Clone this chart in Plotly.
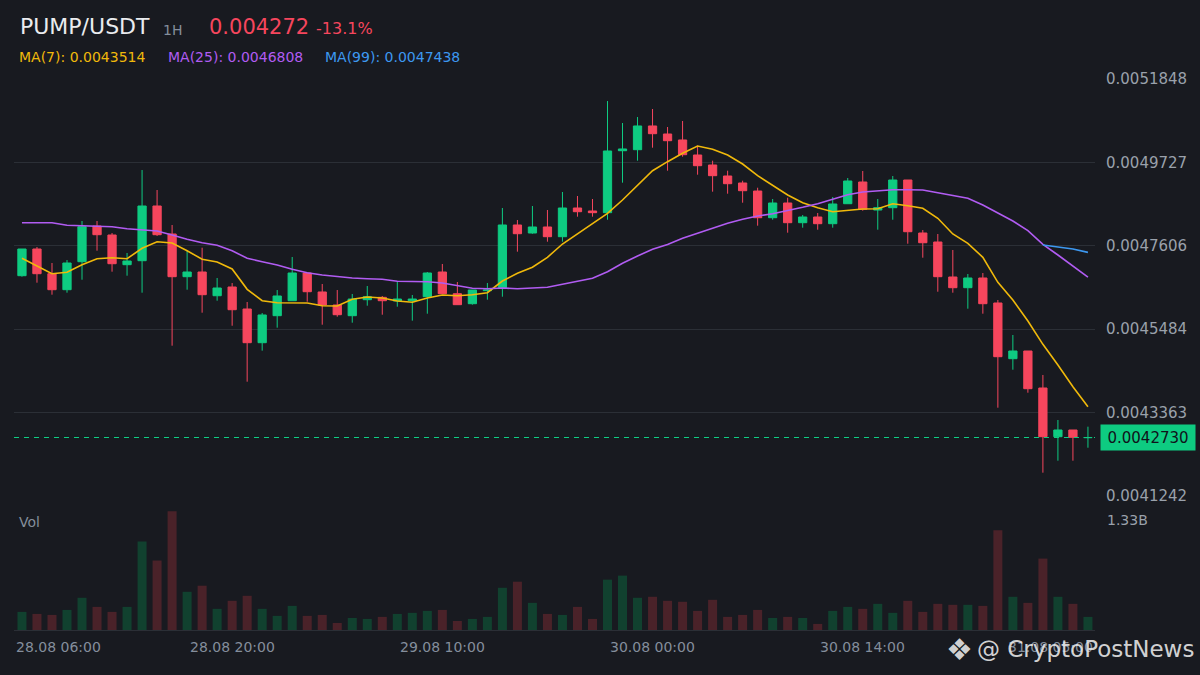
import pandas as pd
import plotly.graph_objects as go

# 1H candles, 28.08 06:00 -> 31.08 05:00
start = "2025-08-28 06:00"

opens = [0.0046845, 0.0047524, 0.0046896, 0.0046489, 0.0047201, 0.0048109, 0.0047880, 0.0047125, 0.0047227, 0.0048618,
         0.0047906, 0.0046820, 0.0046939, 0.0046336, 0.0046558, 0.0045998, 0.0045141, 0.0045828, 0.0046209, 0.0046914,
         0.0046431, 0.0046100, 0.0045828, 0.0046235, 0.0046295, 0.0046202, 0.0046209, 0.0046311, 0.0046939, 0.0046387,
         0.0046133, 0.0046464, 0.0046540, 0.0048135, 0.0047931, 0.0048084, 0.0047837, 0.0048567, 0.0048491, 0.0048448,
         0.0050024, 0.0050050, 0.0050653, 0.0050449, 0.0050297, 0.0049915, 0.0049661, 0.0049381, 0.0049203, 0.0048999,
         0.0048320, 0.0048694, 0.0048193, 0.0048338, 0.0048168, 0.0048676, 0.0049228, 0.0048516, 0.0048575, 0.0049279,
         0.0047931, 0.0047702, 0.0046812, 0.0046540, 0.0046787, 0.0046151, 0.0044734, 0.0044930, 0.0043989, 0.0042750,
         0.0042921, 0.0042725]
highs = [0.0047524, 0.0047575, 0.0047168, 0.0047244, 0.0048236, 0.0048236, 0.0047931, 0.0047422, 0.0049533, 0.0049025,
         0.0048135, 0.0047481, 0.0047557, 0.0046787, 0.0046659, 0.0046176, 0.0045896, 0.0046481, 0.0047321, 0.0046914,
         0.0046634, 0.0046481, 0.0046380, 0.0046583, 0.0046329, 0.0046685, 0.0046354, 0.0046939, 0.0047143, 0.0046685,
         0.0046481, 0.0046659, 0.0048567, 0.0048262, 0.0048618, 0.0048516, 0.0048974, 0.0048872, 0.0048796, 0.0051288,
         0.0050729, 0.0050881, 0.0051085, 0.0050627, 0.0050780, 0.0050152, 0.0049770, 0.0049516, 0.0049261, 0.0049083,
         0.0048796, 0.0048829, 0.0048389, 0.0048440, 0.0048847, 0.0049330, 0.0049508, 0.0048796, 0.0049381, 0.0049279,
         0.0048007, 0.0047906, 0.0047499, 0.0046888, 0.0046914, 0.0046227, 0.0045337, 0.0044930, 0.0044320, 0.0043175,
         0.0042921, 0.0043005]
lows = [0.0046820, 0.0046667, 0.0046362, 0.0046413, 0.0046743, 0.0047481, 0.0046947, 0.0046845, 0.0046413, 0.0047855,
        0.0045065, 0.0046489, 0.0045904, 0.0046209, 0.0045573, 0.0044149, 0.0044938, 0.0045523, 0.0046209, 0.0046184,
        0.0045599, 0.0045802, 0.0045650, 0.0046082, 0.0045853, 0.0046057, 0.0045701, 0.0045879, 0.0046387, 0.0046108,
        0.0046108, 0.0046235, 0.0046311, 0.0047456, 0.0047913, 0.0047710, 0.0047710, 0.0048346, 0.0048346, 0.0048269,
        0.0049211, 0.0049770, 0.0050101, 0.0049516, 0.0049872, 0.0049414, 0.0048982, 0.0048931, 0.0048702, 0.0048117,
        0.0048269, 0.0047939, 0.0048066, 0.0048015, 0.0048066, 0.0048676, 0.0048498, 0.0048015, 0.0048269, 0.0047659,
        0.0047303, 0.0046438, 0.0046413, 0.0046006, 0.0045879, 0.0043488, 0.0044454, 0.0043869, 0.0041835, 0.0042140,
        0.0042140, 0.0042470]
closes = [0.0047524, 0.0046896, 0.0046489, 0.0047168, 0.0048091, 0.0047888, 0.0047150, 0.0047219, 0.0048618, 0.0047888,
          0.0046820, 0.0046939, 0.0046362, 0.0046532, 0.0045980, 0.0045141, 0.0045846, 0.0046329, 0.0046914, 0.0046438,
          0.0046100, 0.0045853, 0.0046252, 0.0046311, 0.0046209, 0.0046252, 0.0046252, 0.0046914, 0.0046387, 0.0046108,
          0.0046481, 0.0046481, 0.0048135, 0.0047913, 0.0048084, 0.0047837, 0.0048567, 0.0048473, 0.0048448, 0.0050017,
          0.0050068, 0.0050653, 0.0050457, 0.0050279, 0.0049923, 0.0049643, 0.0049389, 0.0049185, 0.0049007, 0.0048320,
          0.0048694, 0.0048193, 0.0048338, 0.0048168, 0.0048669, 0.0049254, 0.0048534, 0.0048575, 0.0049279, 0.0047964,
          0.0047684, 0.0046820, 0.0046540, 0.0046787, 0.0046133, 0.0044785, 0.0044930, 0.0043971, 0.0042750, 0.0042921,
          0.0042735, 0.0042730]

# volume in millions
volumes = [203, 180, 169, 225, 361, 259, 203, 259, 992, 778,
           1330, 428, 496, 237, 327, 383, 237, 158, 270, 158,
           169, 79, 135, 124, 147, 180, 192, 214, 225, 101,
           124, 147, 473, 541, 304, 180, 169, 259, 124, 564,
           609, 361, 372, 327, 316, 214, 338, 147, 169, 225,
           135, 147, 135, 68, 214, 259, 237, 293, 192, 327,
           203, 293, 282, 282, 270, 1116, 372, 304, 800, 372,
           293, 147]

ma7 = [0.0047288, 0.0047092, 0.0046896, 0.0046932, 0.0047125, 0.0047277, 0.0047303, 0.0047277, 0.0047542, 0.0047710,
       0.0047677, 0.0047481, 0.0047262, 0.0047194, 0.0047016, 0.0046499, 0.0046209, 0.0046158, 0.0046158, 0.0046151,
       0.0046082, 0.0046074, 0.0046245, 0.0046303, 0.0046278, 0.0046202, 0.0046169, 0.0046278, 0.0046354, 0.0046336,
       0.0046362, 0.0046413, 0.0046710, 0.0046906, 0.0047059, 0.0047313, 0.0047651, 0.0047906, 0.0048178, 0.0048432,
       0.0048770, 0.0049152, 0.0049516, 0.0049745, 0.0049958, 0.0050144, 0.0050060, 0.0049915, 0.0049686, 0.0049389,
       0.0049152, 0.0048898, 0.0048702, 0.0048575, 0.0048473, 0.0048516, 0.0048542, 0.0048549, 0.0048676, 0.0048625,
       0.0048559, 0.0048305, 0.0047906, 0.0047669, 0.0047313, 0.0046677, 0.0046227, 0.0045693, 0.0045100, 0.0044574,
       0.0044022, 0.0043514]
ma25 = [0.0048193, 0.0048193, 0.0048193, 0.0048127, 0.0048109, 0.0048109, 0.0048091, 0.0048041, 0.0048007, 0.0047982,
        0.0047880, 0.0047771, 0.0047684, 0.0047618, 0.0047481, 0.0047288, 0.0047201, 0.0047117, 0.0047008, 0.0046921,
        0.0046863, 0.0046820, 0.0046787, 0.0046769, 0.0046754, 0.0046703, 0.0046693, 0.0046693, 0.0046659, 0.0046583,
        0.0046525, 0.0046514, 0.0046532, 0.0046514, 0.0046525, 0.0046550, 0.0046626, 0.0046710, 0.0046779, 0.0046947,
        0.0047160, 0.0047346, 0.0047517, 0.0047639, 0.0047796, 0.0047923, 0.0048058, 0.0048178, 0.0048280, 0.0048364,
        0.0048422, 0.0048498, 0.0048585, 0.0048676, 0.0048788, 0.0048905, 0.0048974, 0.0048999, 0.0049032, 0.0049032,
        0.0049025, 0.0048956, 0.0048890, 0.0048814, 0.0048643, 0.0048448, 0.0048236, 0.0047990, 0.0047644, 0.0047372,
        0.0047100, 0.0046808]
ma99 = [None] * 68 + [0.0047626, 0.0047583, 0.0047524, 0.0047438]

price_ticks = [0.0041242, 0.0043363, 0.0045484, 0.0047606, 0.0049727, 0.0051848]

header_price = '0.004272'
header_change = '-13.1%'

UP = '#0ecb81'
DOWN = '#f6465d'
BG = '#181a20'
GRID = '#2b2f36'
LABEL = '#9aa1ab'
FONT = 'DejaVu Sans'

# plot area in pixels: x 14..1095, y 79..630
L, R, T, B = 14, 1095, 79, 630


def px_x(px):
    return (px - L) / (R - L)


def px_y(py):
    return (B - py) / (B - T)


def text(x, y, s, size, color, anchor='left', **kw):
    return dict(xref='paper', yref='paper', x=px_x(x), y=px_y(y), text=s, showarrow=False,
                xanchor=anchor, yanchor='middle', font=dict(family=FONT, size=size, color=color), **kw)


def main():
    times = pd.date_range(start, periods=len(closes), freq='h')
    hour = pd.Timedelta(hours=1)

    vol_colors = ['#11412f' if c >= o else '#4a2229' for o, c in zip(opens, closes)]

    traces = [
        go.Bar(x=times, y=volumes, yaxis='y2', marker=dict(color=vol_colors, line=dict(width=0)),
               width=0.6 * 3600 * 1000, hoverinfo='skip'),
        go.Candlestick(x=times, open=opens, high=highs, low=lows, close=closes,
                       increasing=dict(line=dict(color=UP, width=1), fillcolor=UP),
                       decreasing=dict(line=dict(color=DOWN, width=1), fillcolor=DOWN),
                       whiskerwidth=0, hoverinfo='skip'),
        go.Scatter(x=times, y=ma7, mode='lines', line=dict(color='#f0b90b', width=1.6), hoverinfo='skip'),
        go.Scatter(x=times, y=ma25, mode='lines', line=dict(color='#b15cf2', width=1.6), hoverinfo='skip'),
        go.Scatter(x=times, y=ma99, mode='lines', line=dict(color='#3d98f0', width=1.6), hoverinfo='skip'),
    ]

    last = closes[-1]
    price_dom = px_y(496)

    annotations = [
        text(18, 27, 'PUMP/USDT', 22, '#eaecef'),
        text(161, 30, '1H', 14, '#848e9c'),
        text(207, 27, header_price, 21, DOWN),
        text(314, 29, header_change, 16, DOWN),
        text(17, 57, 'MA(7): {:.7f}'.format(ma7[-1]), 14, '#f0b90b'),
        text(166, 57, 'MA(25): {:.7f}'.format(ma25[-1]), 14, '#b15cf2'),
        text(323, 57, 'MA(99): {:.7f}'.format(ma99[-1]), 14, '#3d98f0'),
        text(17, 522, 'Vol', 14, '#848e9c'),
        text(1105, 520, '{:.2f}B'.format(max(volumes) / 1000), 14, LABEL),
        # current price tag
        dict(xref='paper', yref='y', x=px_x(1100), y=last, text='{:.7f}'.format(last), showarrow=False,
             xanchor='left', yanchor='middle', bgcolor=UP, borderpad=4, width=86, height=17,
             font=dict(family=FONT, size=15, color='#10121a')),
    ]

    # time labels, first and last are pushed inside the plot
    label_idx = [0, 14, 28, 42, 56, 71]
    for n, i in enumerate(label_idx):
        s = times[i].strftime('%d.%m %H:%M')
        font = dict(family=FONT, size=14, color='#848e9c')
        if n == 0:
            annotations.append(dict(xref='paper', yref='paper', x=0, y=px_y(647), text=s, showarrow=False,
                                    xanchor='left', yanchor='middle', font=font))
        elif n == len(label_idx) - 1:
            annotations.append(dict(xref='paper', yref='paper', x=1, y=px_y(647), text=s, showarrow=False,
                                    xanchor='right', yanchor='middle', font=font))
        else:
            annotations.append(dict(xref='x', yref='paper', x=times[i], y=px_y(647), text=s, showarrow=False,
                                    xanchor='center', yanchor='middle', font=font))

    # watermark over the last time label
    annotations.append(text(944, 649, '\u2756', 30, 'rgba(235,235,235,0.9)'))
    annotations.append(text(975, 649, '@ CryptoPostNews', 23, 'rgba(235,235,235,0.9)'))

    layout = go.Layout(
        width=1200, height=675,
        paper_bgcolor=BG, plot_bgcolor=BG,
        margin=dict(l=L, r=1200 - R, t=T, b=675 - B),
        showlegend=False,
        boxgap=0.45, boxgroupgap=0,
        xaxis=dict(type='date', range=[times[0] - 0.53 * hour, times[-1] + 0.47 * hour],
                   anchor='y2', showgrid=False, showticklabels=False, ticks='', zeroline=False,
                   showline=True, linecolor=GRID, linewidth=1, rangeslider=dict(visible=False)),
        yaxis=dict(domain=[price_dom, 1], range=[price_ticks[0], price_ticks[-1]], side='right',
                   tickvals=price_ticks, ticktext=['{:.7f}'.format(v) for v in price_ticks],
                   showgrid=True, gridcolor=GRID, gridwidth=1, zeroline=False, ticks='',
                   ticklabelstandoff=10, tickfont=dict(family=FONT, size=15, color=LABEL)),
        yaxis2=dict(domain=[0, px_y(505)], range=[0, 1400], showgrid=False, showticklabels=False,
                    zeroline=False, ticks=''),
        annotations=annotations,
        shapes=[dict(type='line', xref='paper', yref='y', x0=0, x1=1, y0=last, y1=last,
                     line=dict(color=UP, width=1, dash='5px,5px'))],
    )

    fig = go.Figure(data=traces, layout=layout)
    # drop the default page margin so the chart fills the window
    fig.write_html('out.html', config={'displayModeBar': False},
                   post_script="document.body.style.margin='0';"
                               "document.body.style.background='#181a20';")


if __name__ == '__main__':
    main()
